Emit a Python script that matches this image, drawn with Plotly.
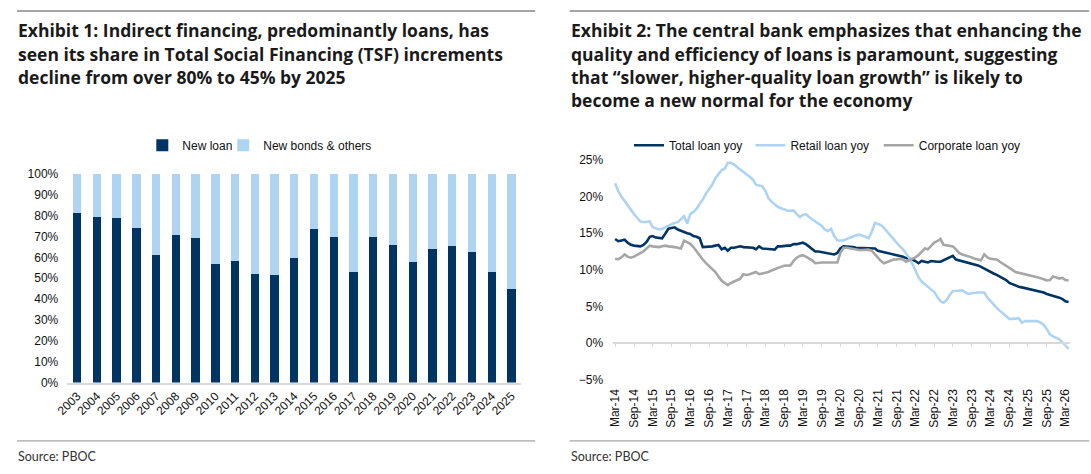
import pandas as pd
import plotly.graph_objects as go

W, H = 1091, 474

# ---------------- Exhibit 1 data ----------------
years = [str(y) for y in range(2003, 2026)]
new_loan = [81.3, 79.4, 78.7, 74.0, 61.1, 70.5, 69.2, 56.7, 58.4, 52.1, 51.6, 59.8,
            73.4, 70.0, 53.0, 69.7, 66.0, 57.8, 63.8, 65.5, 62.8, 53.0, 45.0]
new_bonds_others = [round(100 - v, 1) for v in new_loan]

# ---------------- Exhibit 2 data (monthly, Mar-14 .. Apr-26) ----------------
months = pd.date_range("2014-03-01", "2026-04-01", freq="MS")
total_loan = [
    14.2, 13.9, 14.0, 14.1, 13.7, 13.4, 13.3, 13.2, 13.2, 13.4,
    13.8, 14.5, 14.6, 14.4, 14.3, 14.3, 14.9, 15.6, 15.7, 15.8, 15.5, 15.3,
    15.2, 15.0, 14.9, 14.6, 14.5, 14.3, 13.1, 13.1, 13.2, 13.2, 13.3, 13.4,
    12.8, 13.0, 12.6, 13.0, 13.0, 13.1, 13.2, 13.1, 13.1, 13.1, 13.0, 12.8,
    13.2, 12.9, 12.9, 12.8, 12.8, 12.75, 13.2, 13.2, 13.3, 13.3, 13.3, 13.5,
    13.5, 13.6, 13.7, 13.5, 13.2, 12.9, 12.5, 12.5, 12.4, 12.4, 12.3, 12.2,
    12.1, 12.3, 12.9, 13.2, 13.2, 13.2, 13.1, 13.0, 13.0, 12.9, 12.9, 12.9,
    12.9, 12.9, 12.6, 12.5, 12.4, 12.3, 12.3, 12.2, 12.0, 11.9, 11.8, 11.6,
    11.5, 11.4, 11.2, 10.9, 11.2, 11.1, 11.0, 11.2, 11.1, 11.1, 11.1, 11.3,
    11.6, 11.8, 11.9, 11.4, 11.3, 11.2, 11.1, 11.0, 10.9, 10.8, 10.6, 10.4,
    10.2, 10.0, 9.7, 9.5, 9.3, 9.1, 8.8, 8.6, 8.2, 8.0, 7.9, 7.7,
    7.6, 7.5, 7.4, 7.3, 7.2, 7.1, 7.0, 6.9, 6.7, 6.6, 6.5, 6.3,
    6.2, 6.0, 5.7, 5.6,
]
retail_loan = [
    21.8, 20.7, 20.0, 19.4, 18.7, 18.2, 17.6, 17.1, 16.6, 16.5,
    16.5, 16.6, 15.8, 15.6, 15.5, 15.6, 15.8, 16.0, 16.2, 16.4, 16.5, 16.9,
    17.3, 16.3, 17.6, 17.9, 18.3, 19.0, 19.6, 20.4, 21.0, 21.6, 22.5, 23.1,
    23.6, 23.8, 24.6, 24.6, 24.4, 24.0, 23.7, 23.4, 23.1, 22.7, 22.3, 21.6,
    21.5, 21.4, 20.8, 19.8, 19.3, 18.9, 18.6, 18.4, 18.2, 18.1, 18.05, 18.1,
    17.6, 17.2, 17.5, 17.6, 17.2, 16.95, 16.6, 16.3, 16.0, 15.5, 15.3, 15.6,
    14.6, 14.0, 14.0, 14.0, 14.2, 14.4, 14.6, 14.7, 14.8, 14.7, 14.5, 14.3,
    15.2, 16.4, 16.3, 16.1, 15.7, 15.2, 14.7, 14.1, 13.6, 13.2, 12.8, 12.2,
    11.6, 10.8, 10.0, 9.0, 8.4, 8.1, 7.7, 7.3, 7.0, 6.3, 5.7, 5.5,
    5.9, 6.6, 7.1, 7.1, 7.2, 7.2, 6.9, 6.7, 6.8, 6.9, 6.9, 6.9,
    6.9, 6.2, 5.7, 5.3, 4.8, 4.4, 4.0, 3.7, 3.3, 3.3, 3.4, 3.4,
    2.8, 3.0, 3.0, 3.0, 3.0, 3.0, 2.8, 2.5, 1.9, 1.2, 0.9, 0.7,
    0.5, 0.1, -0.4, -0.8,
]
corporate_loan = [
    11.5, 11.45, 11.7, 12.1, 11.8, 11.65, 11.8, 12.0, 12.2, 12.5,
    12.9, 13.3, 13.2, 13.1, 13.1, 13.2, 13.3, 13.2, 13.2, 13.1, 13.0, 12.9,
    14.0, 13.8, 13.55, 13.1, 12.5, 12.0, 11.4, 10.9, 10.45, 10.1, 9.7, 9.1,
    8.5, 8.2, 7.9, 8.2, 8.4, 8.6, 8.8, 9.4, 9.3, 9.4, 9.5, 9.7,
    9.4, 9.5, 9.6, 9.7, 9.9, 10.1, 10.3, 10.4, 10.55, 10.6, 10.6, 11.2,
    11.65, 11.9, 12.0, 11.8, 11.6, 11.3, 10.9, 11.0, 11.0, 11.0, 11.0, 11.0,
    10.9, 11.0, 12.3, 13.0, 13.0, 12.9, 12.9, 12.8, 12.7, 12.7, 12.7, 12.75,
    12.6, 12.1, 11.6, 11.2, 10.9, 11.1, 11.3, 11.4, 11.4, 11.5, 11.4, 11.1,
    11.3, 11.5, 11.7, 12.0, 12.4, 12.9, 12.8, 13.3, 13.7, 13.9, 14.2, 13.4,
    13.3, 13.2, 13.2, 12.8, 12.3, 12.1, 12.0, 11.9, 11.7, 11.5, 11.4, 11.3,
    12.1, 11.7, 11.5, 11.4, 11.4, 11.1, 10.8, 10.6, 10.3, 10.0, 9.7, 9.6,
    9.4, 9.3, 9.3, 9.2, 9.1, 9.0, 8.9, 8.7, 8.55, 8.6, 9.1, 8.9,
    8.8, 8.9, 8.6, 8.55,
]

NAVY = "#003462"
LIGHT = "#AED4F1"
GRAY = "#A6A6A6"
AX_FONT = dict(family="Liberation Sans, Arial, sans-serif", size=12, color="#111111")
TITLE_FONT = dict(family="Open Sans, sans-serif", size=17.5, color="#1a1a1a")


def px_x(p):
    return p / W


def px_y(p):
    return (H - p) / H


fig = go.Figure()

# ---- Exhibit 1 bars ----
fig.add_trace(go.Bar(x=years, y=[v / 100 for v in new_loan], name="New loan",
                     marker=dict(color=NAVY, line=dict(width=0)),
                     xaxis="x", yaxis="y", legend="legend"))
fig.add_trace(go.Bar(x=years, y=[v / 100 for v in new_bonds_others], name="New bonds & others",
                     marker=dict(color=LIGHT, line=dict(width=0)),
                     xaxis="x", yaxis="y", legend="legend2"))

# ---- Exhibit 2 lines ----
fig.add_trace(go.Scatter(x=months, y=total_loan, name="Total loan yoy", mode="lines",
                         line=dict(color=NAVY, width=2.6), xaxis="x2", yaxis="y2",
                         legend="legend3"))
fig.add_trace(go.Scatter(x=months, y=retail_loan, name="Retail loan yoy", mode="lines",
                         line=dict(color=LIGHT, width=2.6), xaxis="x2", yaxis="y2",
                         legend="legend4"))
fig.add_trace(go.Scatter(x=months, y=corporate_loan, name="Corporate loan yoy", mode="lines",
                         line=dict(color=GRAY, width=2.6), xaxis="x2", yaxis="y2",
                         legend="legend5"))

x2_range = ["2014-02-10", "2026-04-17"]

legend_common = dict(orientation="h", yanchor="middle", y=px_y(142.5), xanchor="left",
                     font=AX_FONT, bgcolor="rgba(0,0,0,0)", borderwidth=0,
                     itemclick=False, itemdoubleclick=False)

fig.update_layout(
    width=W, height=H, autosize=False,
    margin=dict(l=0, r=0, t=0, b=0),
    paper_bgcolor="white", plot_bgcolor="white",
    barmode="stack", bargap=0.58,
    font=AX_FONT,
    xaxis=dict(domain=[px_x(56), px_x(516)], anchor="y", type="category",
               range=[-0.5, 22.5], showline=True, linecolor="#d9d9d9", linewidth=1.5,
               ticks="", tickangle=-45, showgrid=False, zeroline=False, tickfont=AX_FONT),
    yaxis=dict(domain=[px_y(387), px_y(172)], anchor="x", range=[0, 1],
               tickformat=".0%", dtick=0.1, tick0=0, showgrid=False, zeroline=False,
               showline=False, ticks="", ticklabelstandoff=8, tickfont=AX_FONT),
    xaxis2=dict(domain=[px_x(609), px_x(1072)], anchor="y2", type="date",
                range=x2_range, tick0="2014-03-01", dtick="M6", tickformat="%b-%y",
                tickangle=-90, showline=False, ticks="", showgrid=False, zeroline=False,
                ticklabelstandoff=6, tickfont=AX_FONT),
    xaxis3=dict(overlaying="x2", anchor="free", position=px_y(346.3), type="date",
                range=x2_range, tick0="2014-03-01", dtick="M6", showticklabels=False,
                showline=True, linecolor="#d9d9d9", linewidth=1.5, ticks="outside",
                ticklen=3, tickcolor="#d9d9d9", tickwidth=1, showgrid=False, zeroline=False),
    yaxis2=dict(domain=[px_y(384.05), px_y(157.55)], anchor="x2", range=[-5, 25],
                dtick=5, tick0=0, ticksuffix="%", showgrid=False, zeroline=False,
                showline=False, ticks="", ticklabelstandoff=9, tickfont=AX_FONT),
    legend=dict(legend_common, x=px_x(132)),
    legend2=dict(legend_common, x=px_x(214)),
    legend3=dict(legend_common, x=px_x(625)),
    legend4=dict(legend_common, x=px_x(748)),
    legend5=dict(legend_common, x=px_x(878)),
    showlegend=True,
)

# Invisible helper trace so the zero-line axis is rendered
fig.add_trace(go.Scatter(x=[months[0]], y=[0], mode="markers", marker=dict(opacity=0),
                         xaxis="x3", yaxis="y2", showlegend=False, hoverinfo="skip"))

# ---- rules ----
shapes = []
for x0, x1 in [(5, 530), (565, 1091)]:
    for yy in (4, 447):
        shapes.append(dict(type="line", xref="paper", yref="paper",
                           x0=px_x(x0), x1=px_x(x1), y0=px_y(yy), y1=px_y(yy),
                           line=dict(color="#a6a6a6", width=2 if yy == 4 else 1.3)))
fig.update_layout(shapes=shapes)

# ---- titles ----
left_title = ["Exhibit 1: Indirect financing, predominantly loans, has",
              "seen its share in Total Social Financing (TSF) increments",
              "decline from over 80% to 45% by 2025"]
right_title = ["Exhibit 2: The central bank emphasizes that enhancing the",
               "quality and efficiency of loans is paramount, suggesting",
               "that \u201cslower, higher-quality loan growth\u201d is likely to",
               "become a new normal for the economy"]
ann = []
for i, t in enumerate(left_title):
    ann.append(dict(text="<b>" + t + "</b>", x=px_x(4), y=px_y(24 + 24 * i), xref="paper",
                    yref="paper", xanchor="left", yanchor="middle", showarrow=False,
                    font=TITLE_FONT))
for i, t in enumerate(right_title):
    ann.append(dict(text="<b>" + t + "</b>", x=px_x(564), y=px_y(24 + 24 * i), xref="paper",
                    yref="paper", xanchor="left", yanchor="middle", showarrow=False,
                    font=TITLE_FONT))
for xx in (4, 564):
    ann.append(dict(text="Source: PBOC", x=px_x(xx), y=px_y(463), xref="paper", yref="paper",
                    xanchor="left", yanchor="middle", showarrow=False,
                    font=dict(family="Lato, sans-serif", size=12.5, color="#333333")))
fig.update_layout(annotations=ann)

fig.write_html("out.html")
